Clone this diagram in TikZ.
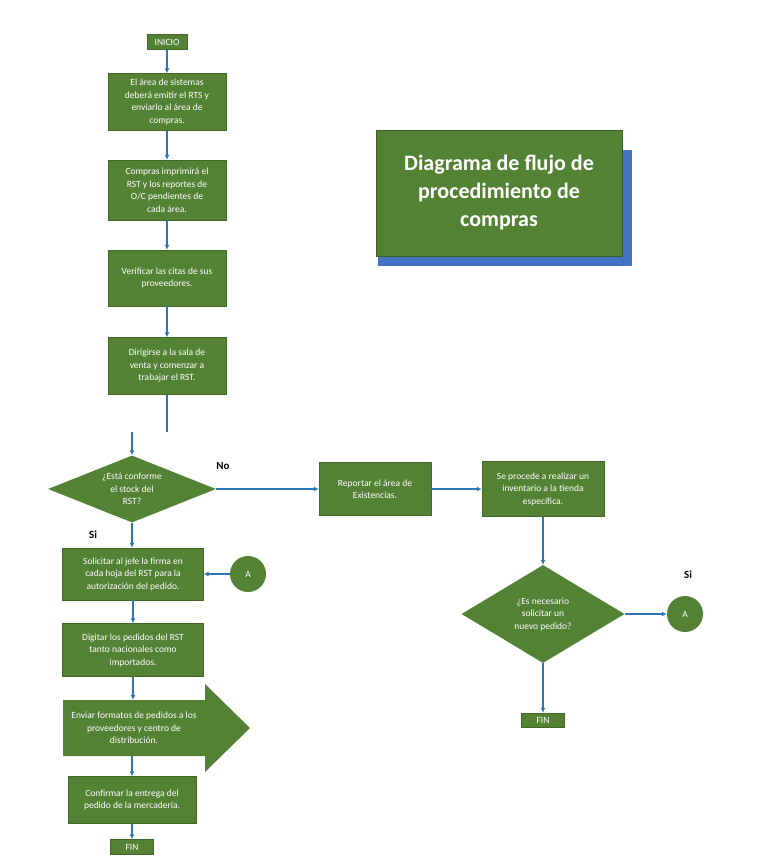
\documentclass[tikz,border=0pt]{standalone}
\usepackage{fontspec}
\setmainfont{Carlito}
\usetikzlibrary{shapes.geometric,arrows.meta}
\definecolor{gr}{HTML}{548235}
\definecolor{bl}{HTML}{4472C4}
\definecolor{ar}{HTML}{2E75B6}
\begin{document}
\begin{tikzpicture}[x=1pt,y=-1pt,
  tx/.style={text=white,align=center,font=\fontsize{9.5}{12.5}\selectfont},
  box/.style={tx,fill=gr,draw=gr!80!black,inner sep=2pt},
  dia/.style={tx,diamond,aspect=2.5,fill=gr,inner sep=0pt},
  circ/.style={tx,circle,fill=gr,minimum size=36pt,inner sep=0pt},
  arr/.style={draw=ar,line width=1.3pt,-{Latex[length=5pt,width=5pt]}},
  ln/.style={draw=ar,line width=1.3pt},
  lab/.style={font=\bfseries\fontsize{11}{13}\selectfont}]
\useasboundingbox (0,0) rectangle (768,866);
\node[box,minimum width=40pt,minimum height=15pt] (ini) at (167,42) {INICIO};
\node[box,minimum width=118pt,minimum height=57pt] (b1) at (167,102) {El área de sistemas\\deberá emitir el RTS y\\enviarlo al área de\\compras.};
\node[box,minimum width=118pt,minimum height=60pt] (b2) at (167,190) {Compras imprimirá el\\RST y los reportes de\\O/C pendientes de\\cada área.};
\node[box,minimum width=118pt,minimum height=56pt] (b3) at (167,278) {Verificar las citas de sus\\proveedores.};
\node[box,minimum width=118pt,minimum height=57pt] (b4) at (167,366) {Dirigirse a la sala de\\venta y comenzar a\\trabajar el RST.};
\coordinate (c1) at (167,432);
\coordinate (c2) at (132,432);
\node[dia,minimum width=168pt,minimum height=67pt] (d1) at (132,489) {¿Está conforme\\el stock del\\RST?};
\node[box,minimum width=112pt,minimum height=53pt] (rep) at (375,489) {Reportar el área de\\Existencias.};
\node[box,minimum width=122pt,minimum height=55pt] (inv) at (543,489) {Se procede a realizar un\\inventario a la tienda\\específica.};
\node[dia,minimum width=163pt,minimum height=98pt] (d2) at (543,614) {¿Es necesario\\solicitar un\\nuevo pedido?};
\node[circ] (a2) at (685,614) {A};
\node[box,minimum width=43pt,minimum height=14pt] (fin2) at (543,720) {FIN};
\node[box,minimum width=141pt,minimum height=52pt] (b5) at (133,574) {Solicitar al jefe la firma en\\cada hoja del RST para la\\autorización del pedido.};
\node[circ] (a1) at (248,574) {A};
\node[box,minimum width=141pt,minimum height=53pt] (b6) at (133,650) {Digitar los pedidos del RST\\tanto nacionales como\\importados.};
\fill[gr] (63,700) -- (205,700) -- (205,684) -- (250,728) -- (205,772) -- (205,756) -- (63,756) -- cycle;
\node[tx] (b7) at (134,728) {Enviar formatos de pedidos a los\\proveedores y centro de\\distribución.};
\coordinate (b7t) at (133,700);
\coordinate (b7b) at (132,756);
\node[box,minimum width=128pt,minimum height=47pt] (b8) at (132,800) {Confirmar la entrega del\\pedido de la mercadería.};
\node[box,minimum width=43pt,minimum height=15pt] (fin1) at (132,847) {FIN};
\node[lab] at (223,466) {No};
\node[lab] at (93,535) {Si};
\node[lab] at (688,575) {Si};
% title
\fill[bl] (378,150) rectangle (632,266);
\node[fill=gr,draw=gr!70!black,minimum width=246pt,minimum height=126pt,text=white,align=center,font=\bfseries\fontsize{22}{28}\selectfont] (t) at (499,193) {Diagrama de flujo de\\procedimiento de\\compras};
% connectors
\draw[arr] (ini) -- (b1);
\draw[arr] (b1) -- (b2);
\draw[arr] (b2) -- (b3);
\draw[arr] (b3) -- (b4);
\draw[ln] (b4) -- (c1);
\draw[arr] (c2) -- (d1.north);
\draw[arr] (d1.east) -- (rep);
\draw[arr] (rep) -- (inv);
\draw[arr] (inv) -- (d2.north);
\draw[arr] (d2.east) -- (a2);
\draw[arr] (d2.south) -- (fin2);
\draw[arr] (d1.south) -- (d1.south |- b5.north);
\draw[arr] (a1) -- (b5);
\draw[arr] (b5) -- (b6);
\draw[arr] (b6) -- (b7t);
\draw[arr] (b7b) -- (b8);
\draw[arr] (b8) -- (fin1);
\end{tikzpicture}
\end{document}
